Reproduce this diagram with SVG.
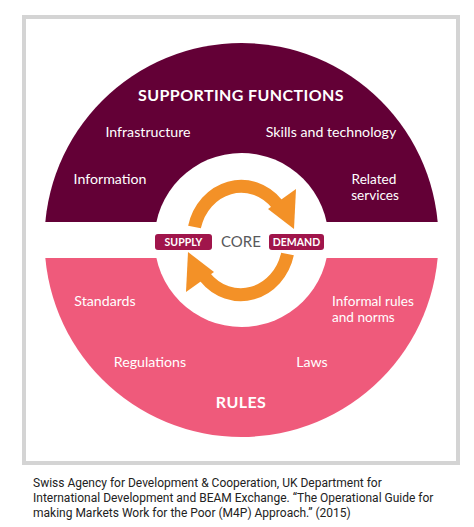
<svg xmlns="http://www.w3.org/2000/svg" width="474" height="527" viewBox="0 0 474 527">
<style>
.lbl{font-family:Lato,"Open Sans","DejaVu Sans",sans-serif;fill:#fff;font-size:14.2px}
.ml{font-size:13.6px}
.hd{font-family:Lato,"Open Sans","DejaVu Sans",sans-serif;fill:#fff;font-size:16px;font-weight:bold;letter-spacing:0.4px}
.pill{fill:#A0154B}
.pt{font-family:Lato,"Open Sans","DejaVu Sans",sans-serif;fill:#fff;font-size:10.5px;font-weight:bold}
.cap{font-family:Roboto,"Noto Sans",sans-serif;fill:#222;font-size:12px}
.arc{fill:none;stroke:#F39127;stroke-width:13}
.head{fill:#F39127}
</style>
<defs>
<clipPath id="topc"><rect x="0" y="0" width="474" height="222"/></clipPath>
<clipPath id="botc"><rect x="0" y="258" width="474" height="269"/></clipPath>
</defs>
<rect x="0" y="0" width="474" height="527" fill="#fff"/>
<rect x="24" y="17" width="434" height="446" fill="#fff" stroke="#D4D4D4" stroke-width="4"/>
<g id="supporting-functions">
<circle cx="241.5" cy="240" r="197" fill="#630036" clip-path="url(#topc)"/>
<text class="hd" x="241" y="101" text-anchor="middle">SUPPORTING FUNCTIONS</text>
<text class="lbl" x="148" y="137" text-anchor="middle">Infrastructure</text>
<text class="lbl" x="331" y="137" text-anchor="middle">Skills and technology</text>
<text class="lbl" x="110" y="184" text-anchor="middle">Information</text>
<text class="lbl ml" x="374" y="183.5" text-anchor="middle">Related</text>
<text class="lbl ml" x="375" y="199.5" text-anchor="middle">services</text>
</g>
<g id="rules">
<circle cx="241.5" cy="240" r="197" fill="#EF5A7B" clip-path="url(#botc)"/>
<text class="lbl" x="105" y="306" text-anchor="middle">Standards</text>
<text class="lbl ml" x="332" y="305.5">Informal rules</text>
<text class="lbl ml" x="332" y="321.5">and norms</text>
<text class="lbl" x="150" y="367" text-anchor="middle">Regulations</text>
<text class="lbl" x="312" y="367" text-anchor="middle">Laws</text>
<text class="hd" x="241" y="408" text-anchor="middle">RULES</text>
</g>
<g id="core">
<circle cx="241.5" cy="240" r="87" fill="#fff"/>
<text x="241" y="247" text-anchor="middle" font-family="Lato,'Open Sans',sans-serif" font-size="15" fill="#58595B">CORE</text>
</g>
<g id="supply">
<rect class="pill" x="155" y="234" width="57" height="16" rx="3"/>
<text class="pt" x="183.5" y="246" text-anchor="middle">SUPPLY</text>
</g>
<g id="demand">
<rect class="pill" x="269" y="234" width="55" height="16" rx="3"/>
<text class="pt" x="296.5" y="246" text-anchor="middle">DEMAND</text>
</g>
<g id="connectors">
<g id="cycle-top">
<path class="arc" d="M194.5,227 A48,53 0 0 1 277,204"/>
<polygon class="head" points="268,209 296,189 294,229"/>
</g>
<g id="cycle-bottom" transform="rotate(180 241 240.5)">
<path class="arc" d="M194.5,227 A48,53 0 0 1 277,204"/>
<polygon class="head" points="268,209 296,189 294,229"/>
</g>
</g>
<g id="caption">
<text class="cap" x="33" y="487">Swiss Agency for Development &amp; Cooperation, UK Department for</text>
<text class="cap" x="33" y="502">International Development and BEAM Exchange. “The Operational Guide for</text>
<text class="cap" x="33" y="517">making Markets Work for the Poor (M4P) Approach.” (2015)</text>
</g>
</svg>
